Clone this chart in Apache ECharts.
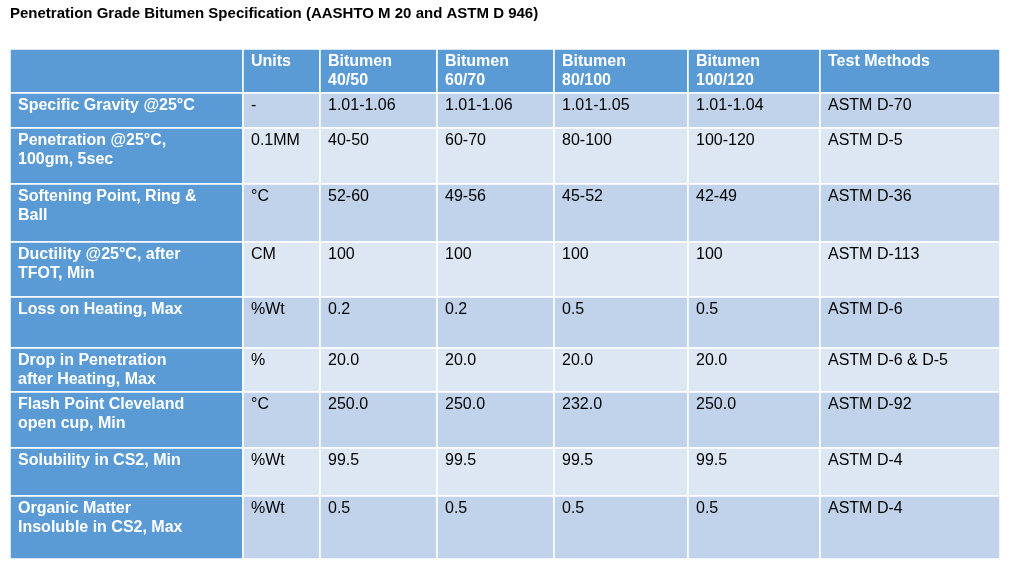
<!DOCTYPE html>
<html>
<head>
<meta charset="utf-8">
<script src="https://cdn.jsdelivr.net/npm/echarts@6/dist/echarts.min.js"></script>
<style>html,body{margin:0;padding:0;background:#fff}#chart{width:1024px;height:569px}</style>
</head>
<body>
<div id="chart"></div>
<script>
// table contents
var title = 'Penetration Grade Bitumen Specification (AASHTO M 20 and ASTM D 946)';
var headers = ['', 'Units', 'Bitumen\n40/50', 'Bitumen\n60/70', 'Bitumen\n80/100', 'Bitumen\n100/120', 'Test Methods'];
var properties = ['Specific Gravity @25°C', 'Penetration @25°C,\n100gm, 5sec', 'Softening Point, Ring &\nBall',
  'Ductility @25°C, after\nTFOT, Min', 'Loss on Heating, Max', 'Drop in Penetration\nafter Heating, Max',
  'Flash Point Cleveland\nopen cup, Min', 'Solubility in CS2, Min', 'Organic Matter\nInsoluble in CS2, Max'];
var units = ['-', '0.1MM', '°C', 'CM', '%Wt', '%', '°C', '%Wt', '%Wt'];
var grade4050 = ['1.01-1.06', '40-50', '52-60', '100', '0.2', '20.0', '250.0', '99.5', '0.5'];
var grade6070 = ['1.01-1.06', '60-70', '49-56', '100', '0.2', '20.0', '250.0', '99.5', '0.5'];
var grade80100 = ['1.01-1.05', '80-100', '45-52', '100', '0.5', '20.0', '232.0', '99.5', '0.5'];
var grade100120 = ['1.01-1.04', '100-120', '42-49', '100', '0.5', '20.0', '250.0', '99.5', '0.5'];
var testMethods = ['ASTM D-70', 'ASTM D-5', 'ASTM D-36', 'ASTM D-113', 'ASTM D-6', 'ASTM D-6 & D-5', 'ASTM D-92', 'ASTM D-4', 'ASTM D-4'];

// layout
var colX = [10, 243, 320, 437, 554, 688, 820, 1000];
var rowY = [49, 93, 128, 184, 242, 297, 348, 392, 448, 496, 559];

var columns = [properties, units, grade4050, grade6070, grade80100, grade100120, testMethods];
var elements = [];
elements.push({ type: 'text', left: 10, top: 6, style: { text: title, font: 'bold 15px "Liberation Sans", Arial', fill: '#000' } });

for (var r = 0; r < rowY.length - 1; r++) {
  for (var c = 0; c < colX.length - 1; c++) {
    var head = r === 0 || c === 0;
    var fill = head ? '#5B9BD5' : (r % 2 === 1 ? '#C0D3EA' : '#DDE7F4');
    var txt = r === 0 ? headers[c] : columns[c][r - 1];
    elements.push({
      type: 'rect',
      shape: { x: colX[c], y: rowY[r], width: colX[c + 1] - colX[c], height: rowY[r + 1] - rowY[r] },
      style: { fill: fill, stroke: '#fff', lineWidth: 1.5 }
    });
    elements.push({
      type: 'text',
      x: colX[c] + 8, y: rowY[r] + 3,
      style: {
        text: txt, fill: head ? '#fff' : '#000', lineHeight: 19,
        font: (head ? 'bold ' : '') + '16px "Liberation Sans", Arial'
      }
    });
  }
}

var myChart = echarts.init(document.getElementById('chart'));
myChart.setOption({ animation: false, graphic: { elements: elements } });
</script>
</body>
</html>
